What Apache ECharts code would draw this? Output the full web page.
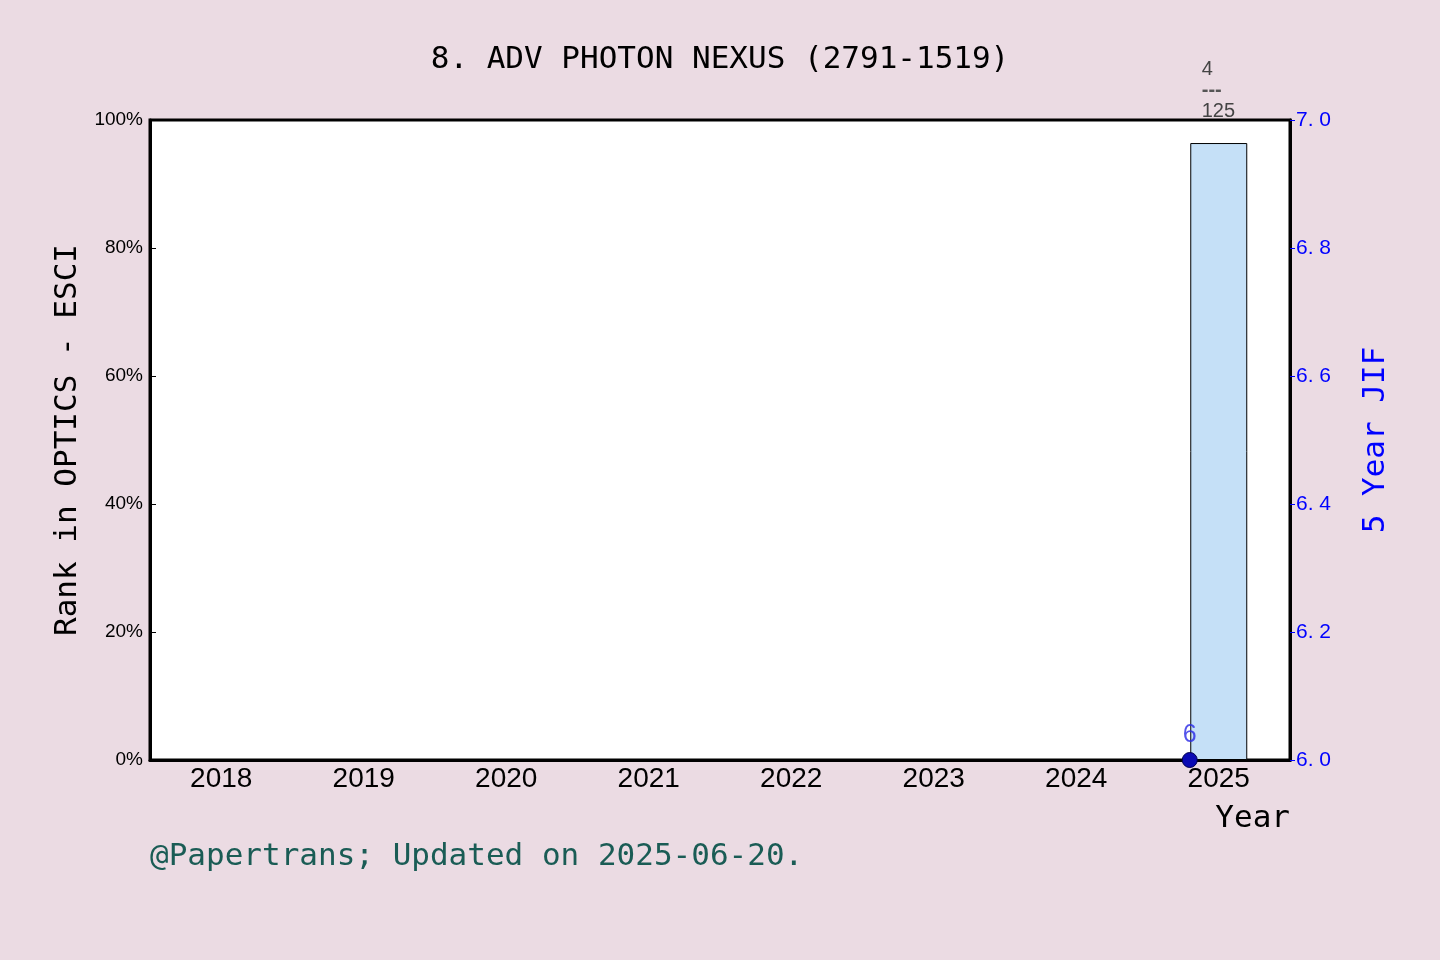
<!DOCTYPE html>
<html>
<head>
<meta charset="utf-8">
<script src="https://cdn.jsdelivr.net/npm/echarts@6/dist/echarts.min.js"></script>
<style>
html,body{margin:0;padding:0;background:#ebdbe3;}
#c{width:1440px;height:960px;}
</style>
</head>
<body>
<div id="c"></div>
<script>
const titleText = '8. ADV PHOTON NEXUS (2791-1519)';
const footerText = '@Papertrans; Updated on 2025-06-20.';
const years = ['2018','2019','2020','2021','2022','2023','2024','2025'];
const rankPercent = [null,null,null,null,null,null,null,96.4];
const rankLabels = [null,null,null,null,null,null,null,['4','---','125']];
const jif5 = [null,null,null,null,null,null,null,6.0];
const jifLabels = [null,null,null,null,null,null,null,'6'];

const chart = echarts.init(document.getElementById('c'));
const mono = 'DejaVu Sans Mono';
chart.setOption({
  backgroundColor: '#ebdbe3',
  animation: false,
  title: {
    text: titleText, left: 'center', top: 39,
    textStyle: {fontFamily: mono, fontSize: 31, fontWeight: 'normal', color: '#000'}
  },
  graphic: [{
    type: 'text', left: 150, top: 841,
    style: {text: footerText, font: '31px "DejaVu Sans Mono"', fill: '#1a5c55'}
  }],
  grid: {
    left: 150, right: 150, top: 120, bottom: 200,
    show: true, backgroundColor: '#fff', borderColor: '#000', borderWidth: 3
  },
  xAxis: {
    type: 'category', data: years, boundaryGap: true,
    name: 'Year', nameLocation: 'end', nameGap: 0,
    nameTextStyle: {fontFamily: mono, fontSize: 31, color: '#000', align: 'right', verticalAlign: 'top', padding: [43, 0, 0, 0]},
    axisLine: {lineStyle: {color: '#000', width: 3}},
    axisTick: {inside: true, length: 6, lineStyle: {color: '#000', width: 1}},
    axisLabel: {fontFamily: 'Liberation Sans', fontSize: 28, color: '#000', margin: 5}
  },
  yAxis: [{
    type: 'value', min: 0, max: 100, interval: 20,
    name: 'Rank in OPTICS - ESCI', nameLocation: 'middle', nameGap: 67,
    nameTextStyle: {fontFamily: mono, fontSize: 31, color: '#000'},
    axisLine: {show: true, lineStyle: {color: '#000', width: 3}},
    axisTick: {show: true, inside: true, length: 6, lineStyle: {color: '#000', width: 1}},
    axisLabel: {formatter: '{value}%', fontFamily: 'Liberation Sans', fontSize: 19, color: '#000', margin: 7},
    splitLine: {show: false}
  }, {
    type: 'value', min: 6.0, max: 7.0, interval: 0.2, position: 'right',
    name: '5 Year JIF', nameLocation: 'middle', nameGap: 70,
    nameTextStyle: {fontFamily: mono, fontSize: 31, color: '#0000ff'},
    axisLine: {show: true, lineStyle: {color: '#000', width: 3}},
    axisTick: {show: true, inside: false, length: 5, lineStyle: {color: '#0000ff', width: 1}},
    axisLabel: {formatter: v => v.toFixed(1).replace('.', '. '), fontFamily: 'Liberation Sans', fontSize: 21, color: '#0000ff', margin: 6},
    splitLine: {show: false}
  }],
  series: [{
    type: 'bar', yAxisIndex: 0, barWidth: '40%',
    data: rankPercent,
    itemStyle: {color: '#c5e0f7', borderColor: '#000', borderWidth: 1},
    label: {
      show: true, position: 'top', distance: 21,
      formatter: p => rankLabels[p.dataIndex] ? rankLabels[p.dataIndex].map(s => (s.indexOf('-') >= 0 ? '{d|' : '{a|') + s + '}').join('\n') : '',
      rich: {
        a: {fontFamily: 'Liberation Sans', fontSize: 20, color: '#444', width: 34, align: 'left', lineHeight: 21},
        d: {fontFamily: 'Liberation Sans', fontSize: 20, color: '#555', width: 34, align: 'left', lineHeight: 21, fontWeight: 'bold'}
      }
    }
  }, {
    type: 'line', yAxisIndex: 1, clip: false,
    data: jif5, symbol: 'circle', symbolSize: 15, symbolOffset: [-29, 0],
    itemStyle: {color: '#0a0ab4', borderColor: '#000050', borderWidth: 1},
    lineStyle: {color: '#0a0ab4'},
    label: {
      show: true, position: 'top', distance: 4,
      formatter: p => jifLabels[p.dataIndex] || '',
      fontFamily: 'Liberation Sans', fontSize: 25, color: 'rgba(40,40,230,0.8)'
    },
    z: 5
  }]
});
</script>
</body>
</html>
